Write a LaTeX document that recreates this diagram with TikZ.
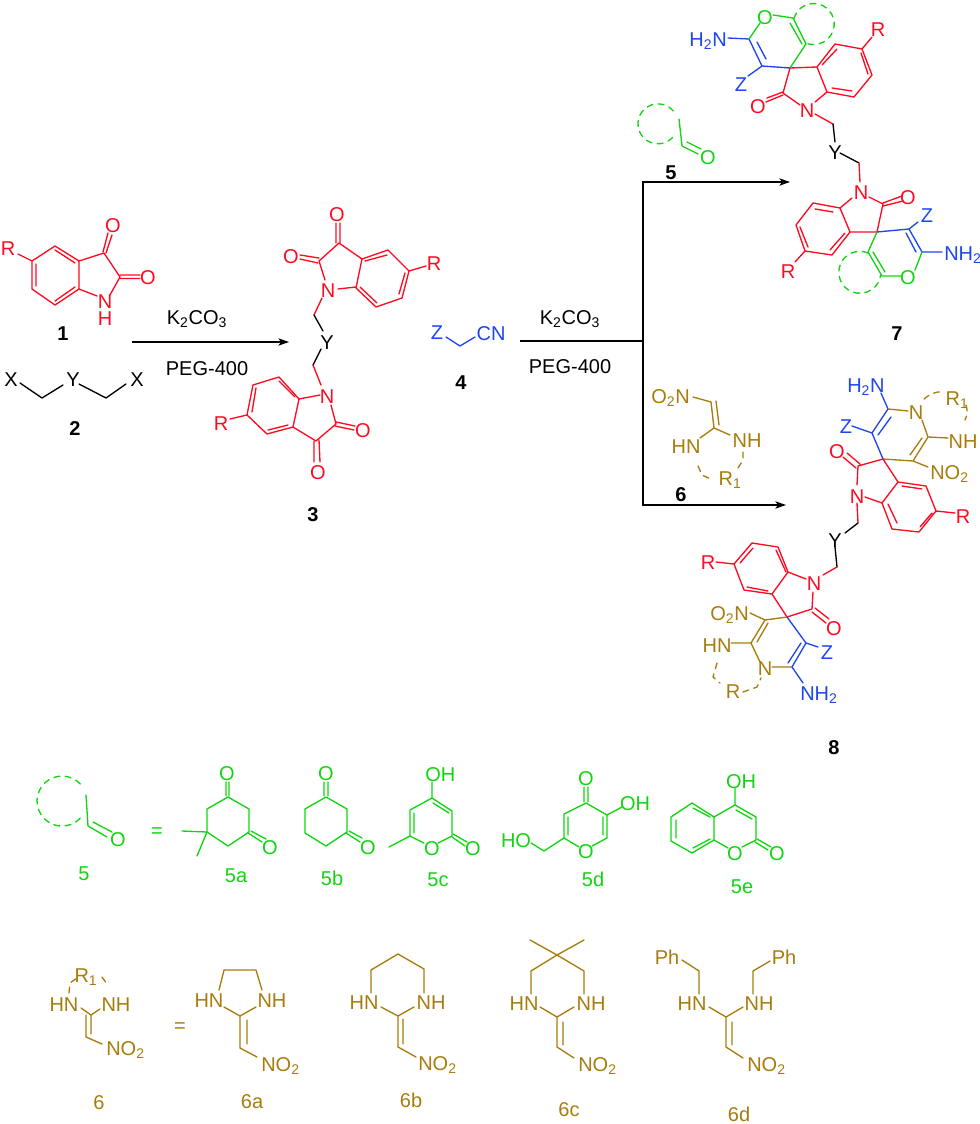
\documentclass[tikz,border=0pt]{standalone}
\usepackage{fontspec}
\setmainfont{Liberation Sans}
\usetikzlibrary{arrows.meta}
\definecolor{chemred}{HTML}{FF0A20}
\definecolor{chemgreen}{HTML}{10D510}
\definecolor{chemblue}{HTML}{1F45F0}
\definecolor{chembrown}{HTML}{A87C0C}
\tikzset{
	atom/.style={inner sep=0pt,text height=10.7pt,text depth=0pt,font=\fontsize{15}{17}\selectfont},
	boldatom/.style={atom,font=\fontsize{15}{17}\selectfont\bfseries},
	bond/.style={line width=1pt,line cap=round,line join=round},
	ringdash/.style={bond,dash pattern=on 4.5pt off 4pt},
	rxnline/.style={line width=0.9pt,black},
	rxnarrow/.style={rxnline,-{Stealth[length=8pt,width=5.5pt,inset=2pt]}}
}
\begin{document}
\begin{tikzpicture}[x=0.75pt,y=-0.75pt]
		\useasboundingbox (0,0) rectangle (980,1124);
		
		%%%%% 1 %%%%%
		\draw[bond,chemred] (18,254) -- (32,261) -- (55,246) -- (79,261) -- (79,289) -- (55,305) -- (32,289) -- (32,261);
		\draw[bond,chemred] (36,264) -- (36,286) (55,250) -- (75,263) (55,301) -- (75,287);
		\draw[bond,chemred] (79,261) -- (104,253) -- (120,277) -- (110,295) (79,289) -- (97,296);
		\draw[bond,chemred] (103,252) -- (108,233) (106,253) -- (112,235) (120,275) -- (140,275) (120,278.5) -- (140,278.5);
		\node[atom,chemred] (rOne) at (8,248) {R};
		\node[atom,chemred] (oOneA) at (113,225) {O};
		\node[atom,chemred] (oOneB) at (148,277) {O};
		\node[atom,chemred] (nOne) at (105,301) {N};
		\node[atom,chemred] (hOne) at (105,318) {H};
		\node[boldatom] (labOne) at (63,333) {1};
		
		%%%%% 2 %%%%%
		\node[atom] (xTwoA) at (11,379) {X};
		\node[atom] (yTwo) at (73,379) {Y};
		\node[atom] (xTwoB) at (137,379) {X};
		\draw[bond] (20,383) -- (42,398) -- (63,385) (79,384) -- (106,398) -- (126,384);
		\node[boldatom] (labTwo) at (75,428) {2};
		
		%%%%% first arrow %%%%%
		\coordinate (arrOneS) at (132,342);
		\coordinate (arrOneE) at (289,342);
		\draw[rxnarrow] (arrOneS) -- (arrOneE);
		\node[atom] (baseOne) at (197,317) {K\textsubscript{2}CO\textsubscript{3}};
		\node[atom] (solvOne) at (207,368) {PEG-400};
		
		%%%%% 3 %%%%%
		\draw[bond,chemred] (336,223) -- (336,243) (340,223) -- (340,243) (300,255) -- (319,258) (300,259) -- (318,263);
		\draw[bond,chemred] (325,280) -- (319,261) -- (339,243) -- (362,259) -- (388,250) -- (409,271) -- (402,298) -- (376,307) -- (356,288) -- (362,259);
		\draw[bond,chemred] (338,289) -- (356,287) (365,261) -- (387,255) (405,273) -- (399,294) (377,303) -- (360,287) (409,271) -- (426,266);
		\draw[bond,chemred] (322,298) -- (314,315);
		\draw[bond] (314,315) -- (323,331) (321,349) -- (313,365);
		\draw[bond,chemred] (313,365) -- (321,385) (320,395) -- (299,399) -- (279,377) -- (253,385) -- (247,415) -- (267,434) -- (293,427) -- (299,399);
		\draw[bond,chemred] (293,427) -- (316,441) -- (336,424) -- (331,405);
		\draw[bond,chemred] (279,381) -- (295,397) (256,388) -- (252,412) (268,430) -- (288,425) (230,419) -- (247,415);
		\draw[bond,chemred] (336,422) -- (355,426) (335,426) -- (354,430) (314,441) -- (314,462) (319,440) -- (320,462);
		\node[atom,chemred] (oThreeA) at (337,214) {O};
		\node[atom,chemred] (oThreeB) at (291,256) {O};
		\node[atom,chemred] (nThreeA) at (328,290) {N};
		\node[atom,chemred] (rThreeA) at (434,263) {R};
		\node[atom] (yThree) at (327,342) {Y};
		\node[atom,chemred] (nThreeB) at (327,396) {N};
		\node[atom,chemred] (oThreeC) at (363,430) {O};
		\node[atom,chemred] (oThreeD) at (318,472) {O};
		\node[atom,chemred] (rThreeB) at (221,423) {R};
		\node[boldatom] (labThree) at (313,514) {3};
		
		%%%%% 4 %%%%%
		\draw[bond,chemblue] (446,337) -- (460,346) -- (475,337);
		\node[atom,chemblue] (zFour) at (437,332) {Z};
		\node[atom,chemblue] (cnFour) at (491,333) {CN};
		\node[boldatom] (labFour) at (461,382) {4};
		
		%%%%% branching arrow %%%%%
		\coordinate (arrTwoS) at (520,341);
		\coordinate (arrTwoJ) at (643,341);
		\coordinate (arrTwoT) at (643,182);
		\coordinate (arrTwoB) at (643,505);
		\coordinate (arrTwoA) at (790,182);
		\coordinate (arrTwoC) at (786,505);
		\draw[rxnline] (arrTwoS) -- (arrTwoJ);
		\draw[rxnarrow] (arrTwoJ) -- (arrTwoT) -- (arrTwoA);
		\draw[rxnarrow] (arrTwoJ) -- (arrTwoB) -- (arrTwoC);
		\node[atom] (baseTwo) at (570,317) {K\textsubscript{2}CO\textsubscript{3}};
		\node[atom] (solvTwo) at (570,366) {PEG-400};
		\node[boldatom] (labFive) at (671,172) {5};
		\node[boldatom] (labSix) at (681,494) {6};
		
		%%%%% 5 above the arrow %%%%%
		\draw[ringdash,chemgreen] (673.3,111) arc[start angle=-40,end angle=-320,radius=20];
		\draw[bond,chemgreen] (679,119) -- (682,146) -- (698,154) (687,142) -- (701,149);
		\node[atom,chemgreen] (oFive) at (708,157) {O};
		
		%%%%% 6 beside the arrow %%%%%
		\draw[bond,chembrown] (693,397) -- (711,402) -- (714,428) -- (700,438) (714,428) -- (730,435) (716,401) -- (719,425);
		\draw[ringdash,chembrown] (743,452) -- (743,460) -- (738,468) (698,466) -- (702,475) -- (713,480);
		\node[atom,anchor=east,chembrown] (noSix) at (690,396) {O\textsubscript{2}N};
		\node[atom,chembrown] (hnSix) at (686,446) {HN};
		\node[atom,chembrown] (nhSix) at (747,440) {NH};
		\node[atom,chembrown] (rSix) at (730,478) {R\textsubscript{1}};
		
		%%%%% 7 upper half %%%%%
		\draw[bond,chemblue] (728,38) -- (749,39) -- (762,66) -- (790,68) (757,42) -- (766,59) (762,66) -- (748,76);
		\draw[bond,chemgreen] (749,39) -- (760,23) (773,15) -- (793,18) -- (806,44) -- (790,68) (790,23) -- (802,44);
		\draw[ringdash,chemgreen] (794,18.4) arc[start angle=-164,end angle=112,radius=20.5];
		\draw[bond,chemred] (790,68) -- (783,93) -- (800,105) (790,68) -- (817,67) -- (835,44) -- (862,49) -- (872,75) -- (854,97) -- (827,92) -- (817,67);
		\draw[bond,chemred] (783,95) -- (766,102) (783,92) -- (767,98) (815,102) -- (827,92) (822,65) -- (837,49) (861,53) -- (868,74) (852,91) -- (832,88) (862,49) -- (872,37) (815,114) -- (833,124);
		\draw[bond] (833,124) -- (835,142) (840,153) -- (859,163);
		\draw[bond,chemred] (859,163) -- (860,182);
		\node[atom,chemgreen] (oSevenA) at (765,17) {O};
		\node[atom,anchor=east,chemblue] (nhSevenA) at (727,39) {H\textsubscript{2}N};
		\node[atom,chemblue] (zSevenA) at (741,84) {Z};
		\node[atom,chemred] (oSevenB) at (758,106) {O};
		\node[atom,chemred] (nSevenA) at (807,110) {N};
		\node[atom,chemred] (rSevenA) at (878,29) {R};
		\node[atom] (ySeven) at (835,152) {Y};
		
		%%%%% 7 lower half %%%%%
		\draw[bond,chemred] (852,198) -- (840,208) -- (813,203) -- (796,225) -- (805,251) -- (832,255) -- (850,232) -- (840,208) (850,232) -- (877,232) -- (883,204) -- (869,197);
		\draw[bond,chemred] (883,206) -- (903,201) (883,203) -- (902,196) (833,212) -- (815,209) (800,227) -- (808,247) (830,250) -- (845,233) (805,251) -- (795,262);
		\draw[bond,chemblue] (877,232) -- (909,229) -- (922,252) -- (942,252) (909,229) -- (918,222) (906,233) -- (916,252);
		\draw[bond,chemgreen] (877,232) -- (868,252) -- (882,276) -- (901,276) (873,252) -- (885,272) (915,270) -- (922,252);
		\draw[ringdash,chemgreen] (868,253) arc[start angle=-67,end angle=-352,radius=21];
		\node[atom,chemred] (nSevenB) at (861,192) {N};
		\node[atom,chemred] (oSevenC) at (908,197) {O};
		\node[atom,chemblue] (zSevenB) at (927,215) {Z};
		\node[atom,anchor=west,chemblue] (nhSevenB) at (944,253) {NH\textsubscript{2}};
		\node[atom,chemgreen] (oSevenD) at (908,277) {O};
		\node[atom,chemred] (rSevenB) at (788,271) {R};
		\node[boldatom] (labSeven) at (897,333) {7};
		
		%%%%% 8 upper half %%%%%
		\draw[bond,chemblue] (881,393) -- (888,409) -- (872,433) -- (883,459) (891,417) -- (878,435) (852,426) -- (872,433);
		\draw[bond,chembrown] (888,409) -- (908,411) (922,420) -- (928,437) -- (913,461) -- (883,459) (922,438) -- (910,455) (928,437) -- (948,438) (913,461) -- (928,467);
		\draw[ringdash,chembrown] (924,399) .. controls (930,394) and (936,391) .. (943,392) (966,405) .. controls (968,411) and (967,416) .. (965,420);
		\draw[bond,chemred] (883,459) -- (858,466) -- (857,485) (847,453) -- (860,464) (843,457) -- (856,468) (865,497) -- (882,503) -- (898,482) -- (883,459);
		\draw[bond,chemred] (898,482) -- (926,486) -- (936,511) -- (919,532) -- (892,529) -- (882,503) (902,486) -- (922,489) (888,504) -- (897,523) (932,513) -- (920,527) (936,511) -- (955,513) (857,503) -- (858,523);
		\draw[bond] (858,523) -- (845,533) (835,547) -- (837,567);
		\draw[bond,chemred] (837,567) -- (823,575);
		\node[atom,anchor=west,chemblue] (nhEightA) at (847,385) {H\textsubscript{2}N};
		\node[atom,chembrown] (nEightA) at (916,412) {N};
		\node[atom,chembrown] (rEightA) at (957,398) {R\textsubscript{1}};
		\node[atom,chemblue] (zEightA) at (846,426) {Z};
		\node[atom,chembrown] (nhEight) at (963,441) {NH};
		\node[atom,anchor=west,chembrown] (noEightA) at (930,472) {NO\textsubscript{2}};
		\node[atom,chemred] (oEightA) at (837,451) {O};
		\node[atom,chemred] (nEightB) at (857,496) {N};
		\node[atom,chemred] (rEightB) at (963,516) {R};
		\node[atom] (yEight) at (835,540) {Y};
		
		%%%%% 8 lower half %%%%%
		\draw[bond,chemred] (806,579) -- (788,572) -- (778,547) -- (752,543) -- (734,564) -- (744,590) -- (772,594) -- (788,572) (772,594) -- (787,617) -- (812,609) -- (813,592);
		\draw[bond,chemred] (786,572) -- (776,550) (753,548) -- (740,563) (747,587) -- (768,591) (716,562) -- (734,564) (815,608) -- (829,619) (812,612) -- (826,623);
		\draw[bond,chembrown] (787,617) -- (765,620) -- (751,643) -- (760,662) (768,623) -- (757,642) (765,620) -- (750,613) (751,643) -- (731,643) (772,667) -- (792,667);
		\draw[bond,chemblue] (787,617) -- (806,643) -- (792,667) -- (803,683) (801,643) -- (788,663) (806,643) -- (818,647);
		\draw[ringdash,chembrown] (717,663) -- (713,677) -- (720,683) (743,692) -- (757,687) -- (761,678);
		\node[atom,chemred] (rEightC) at (708,562) {R};
		\node[atom,chemred] (nEightC) at (814,583) {N};
		\node[atom,chemred] (oEightB) at (834,628) {O};
		\node[atom,anchor=east,chembrown] (noEightB) at (749,613) {O\textsubscript{2}N};
		\node[atom,chembrown] (hnEight) at (717,645) {HN};
		\node[atom,chembrown] (nEightD) at (765,668) {N};
		\node[atom,chemblue] (zEightB) at (827,652) {Z};
		\node[atom,anchor=west,chemblue] (nhEightB) at (800,693) {NH\textsubscript{2}};
		\node[atom,chembrown] (rEightD) at (733,691) {R};
		\node[boldatom] (labEight) at (834,747) {8};
		
		%%%%% row of 5 %%%%%
		\draw[ringdash,chemgreen] (80.3,784) arc[start angle=-43,end angle=-317,radius=25];
		\draw[bond,chemgreen] (86,795) -- (88,826) -- (107,837) (93,822) -- (112,832);
		\node[atom,chemgreen] (oRowFive) at (118,839) {O};
		\node[atom,chemgreen] (labRowFive) at (84,873) {5};
		\node[atom,chemgreen] (eqFive) at (157,830) {=};
		
		\draw[bond,chemgreen] (228,797) -- (249,809) -- (249,832) -- (228,846) -- (207,832) -- (207,809) -- cycle;
		\draw[bond,chemgreen] (226,782) -- (226,796) (229,782) -- (229,796) (248,833) -- (262,842) (251,831) -- (266,839) (207,832) -- (182,831) (207,832) -- (197,856);
		\node[atom,chemgreen] (oaA) at (227,773) {O};
		\node[atom,chemgreen] (oaB) at (270,847) {O};
		\node[atom,chemgreen] (labA) at (236,875) {5a};
		
		\draw[bond,chemgreen] (326,797) -- (347,809) -- (347,832) -- (326,846) -- (305,833) -- (305,809) -- cycle;
		\draw[bond,chemgreen] (324,782) -- (324,796) (328,782) -- (328,796) (346,833) -- (360,842) (349,831) -- (362,838);
		\node[atom,chemgreen] (obA) at (326,773) {O};
		\node[atom,chemgreen] (obB) at (368,847) {O};
		\node[atom,chemgreen] (labB) at (332,878) {5b};
		
		\draw[bond,chemgreen] (424,843) -- (410,836) -- (410,810) -- (432,798) -- (452,811) -- (452,836) -- (438,843);
		\draw[bond,chemgreen] (432,782) -- (432,798) (389,847) -- (410,836) (433,803) -- (449,813) (414,813) -- (414,833) (453,834) -- (467,842) (452,837) -- (465,846);
		\node[atom,anchor=west,chemgreen] (ocA) at (425,774) {OH};
		\node[atom,chemgreen] (ocB) at (432,848) {O};
		\node[atom,chemgreen] (ocC) at (473,848) {O};
		\node[atom,chemgreen] (labC) at (438,879) {5c};
		
		\draw[bond,chemgreen] (579,847) -- (564,838) -- (564,814) -- (586,803) -- (607,815) -- (607,838) -- (592,846);
		\draw[bond,chemgreen] (584,787) -- (584,802) (588,787) -- (588,802) (568,817) -- (568,835) (603,817) -- (603,835) (607,815) -- (622,807) (531,843) -- (544,851) -- (564,838);
		\node[atom,chemgreen] (odA) at (586,778) {O};
		\node[atom,chemgreen] (odB) at (635,803) {OH};
		\node[atom,chemgreen] (odC) at (586,851) {O};
		\node[atom,chemgreen] (odD) at (516,840) {HO};
		\node[atom,chemgreen] (labD) at (593,879) {5d};
		
		\draw[bond,chemgreen] (714,817) -- (692,803) -- (671,817) -- (671,841) -- (692,853) -- (714,840) -- (714,817) -- (735,805) -- (756,817) -- (756,840) -- (742,847) (714,840) -- (728,848);
		\draw[bond,chemgreen] (735,788) -- (735,805) (693,808) -- (710,817) (676,820) -- (676,838) (693,848) -- (710,839) (736,810) -- (752,819) (757,839) -- (771,847) (755,842) -- (768,850);
		\node[atom,chemgreen] (oeA) at (741,781) {OH};
		\node[atom,chemgreen] (oeB) at (735,853) {O};
		\node[atom,chemgreen] (oeC) at (777,853) {O};
		\node[atom,chemgreen] (labE) at (742,886) {5e};
		
		%%%%% row of 6 %%%%%
		\draw[bond,chembrown] (81,1008) -- (91,1015) -- (100,1009) (91,1015) -- (91,1034) (86,1015) -- (86,1037) -- (102,1044);
		\draw[ringdash,chembrown] (69,993) -- (70,983) -- (77,978) (102,977) -- (107,984);
		\node[atom,chembrown] (rRowSix) at (86,975) {R\textsubscript{1}};
		\node[atom,chembrown] (hnRowSix) at (64,1004) {HN};
		\node[atom,chembrown] (nhRowSix) at (116,1004) {NH};
		\node[atom,anchor=west,chembrown] (noRowSix) at (106,1048) {NO\textsubscript{2}};
		\node[atom,chembrown] (labRowSix) at (99,1102) {6};
		\node[atom,chembrown] (eqSix) at (180,1025) {=};
		
		\draw[bond,chembrown] (219,990) -- (224,970) -- (256,970) -- (262,990) (224,1007) -- (240,1016) -- (256,1007) (240,1016) -- (240,1048) -- (257,1057) (247,1020) -- (247,1044);
		\node[atom,chembrown] (hnA) at (209,1000) {HN};
		\node[atom,chembrown] (nhA) at (272,1000) {NH};
		\node[atom,anchor=west,chembrown] (noA) at (261,1064) {NO\textsubscript{2}};
		\node[atom,chembrown] (labSixA) at (252,1101) {6a};
		
		\draw[bond,chembrown] (371,993) -- (371,970) -- (398,954) -- (424,969) -- (424,993) (381,1007) -- (398,1016) -- (414,1007) (398,1016) -- (398,1047) -- (416,1057) (403,1019) -- (403,1044);
		\node[atom,chembrown] (hnB) at (364,1002) {HN};
		\node[atom,chembrown] (nhB) at (431,1002) {NH};
		\node[atom,anchor=west,chembrown] (noB) at (418,1063) {NO\textsubscript{2}};
		\node[atom,chembrown] (labSixB) at (411,1100) {6b};
		
		\draw[bond,chembrown] (531,994) -- (531,971) -- (557,955) -- (584,971) -- (584,994) (540,1007) -- (557,1017) -- (574,1007) (557,1017) -- (557,1047) -- (574,1058) (563,1022) -- (563,1045);
		\draw[bond,chembrown] (557,955) -- (530,940) (557,955) -- (584,940);
		\node[atom,chembrown] (hnC) at (524,1003) {HN};
		\node[atom,chembrown] (nhC) at (591,1003) {NH};
		\node[atom,anchor=west,chembrown] (noC) at (578,1064) {NO\textsubscript{2}};
		\node[atom,chembrown] (labSixC) at (569,1109) {6c};
		
		\draw[bond,chembrown] (682,960) -- (699,971) -- (699,994) (770,961) -- (753,971) -- (753,994) (709,1007) -- (726,1017) -- (743,1007) (726,1017) -- (726,1047) -- (743,1058) (732,1022) -- (732,1045);
		\node[atom,chembrown] (phA) at (667,957) {Ph};
		\node[atom,chembrown] (phB) at (784,957) {Ph};
		\node[atom,chembrown] (hnD) at (692,1003) {HN};
		\node[atom,chembrown] (nhD) at (759,1003) {NH};
		\node[atom,anchor=west,chembrown] (noD) at (747,1064) {NO\textsubscript{2}};
		\node[atom,chembrown] (labSixD) at (739,1114) {6d};
		
	\end{tikzpicture}
\end{document}
